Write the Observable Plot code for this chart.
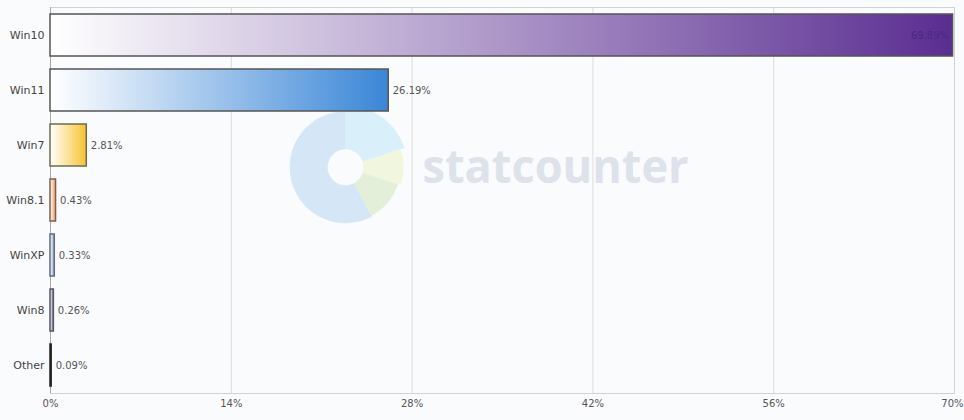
<!DOCTYPE html>
<html>
<head>
<meta charset="utf-8">
<script src="https://cdn.jsdelivr.net/npm/d3@7"></script>
<script src="https://cdn.jsdelivr.net/npm/@observablehq/plot@0.6"></script>
<style>
  html, body { margin: 0; padding: 0; background: #fafbfd; }
  #chart svg { display: block; background: #fafbfd; }
</style>
</head>
<body>
<div id="chart"></div>
<script>
const categories = ["Win10", "Win11", "Win7", "Win8.1", "WinXP", "Win8", "Other"];
const values = [69.89, 26.19, 2.81, 0.43, 0.33, 0.26, 0.09];
const barColors = ["#5a2d91", "#3a86d7", "#f6c430", "#f39a5c", "#8ea5d6", "#7c7c9c", "#2e2e2e"];
const strokeColors = ["#555555", "#555555", "#6e6a50", "#7a6050", "#606a80", "#555566", "#222222"];
const xTicks = [0, 14, 28, 42, 56, 70];

const data = categories.map((c, i) => ({ cat: c, value: values[i], i }));

function gradientDefs() {
  const defs = d3.create("svg:defs");
  barColors.forEach((col, i) => {
    const g = defs.append("linearGradient").attr("id", "grad" + i)
      .attr("x1", "0").attr("y1", "0").attr("x2", "1").attr("y2", "0");
    g.append("stop").attr("offset", "0").attr("stop-color", "#ffffff");
    g.append("stop").attr("offset", "1").attr("stop-color", col);
  });
  return defs.node();
}

function watermark(index, scales, values, dims) {
  const g = d3.create("svg:g").attr("pointer-events", "none");
  const pw = dims.width - dims.marginLeft - dims.marginRight;
  const ph = dims.height - dims.marginTop - dims.marginBottom;
  const cx = dims.marginLeft + pw * 0.327;
  const cy = dims.marginTop + ph * 0.415;
  const segs = [
    { a0: 0, a1: 72, r: 62, c: "#d9f0fa" },
    { a0: 72, a1: 108, r: 58, c: "#f1f6de" },
    { a0: 108, a1: 152, r: 55, c: "#e4efd9" },
    { a0: 152, a1: 360, r: 56, c: "#d5e7f6" }
  ];
  const arc = d3.arc();
  segs.forEach(s => {
    g.append("path")
      .attr("transform", `translate(${cx},${cy})`)
      .attr("d", arc({ innerRadius: 18, outerRadius: s.r, startAngle: s.a0 * Math.PI / 180, endAngle: s.a1 * Math.PI / 180 }))
      .attr("fill", s.c);
  });
  g.append("text")
    .attr("x", cx + 77).attr("y", cy + 16)
    .attr("text-anchor", "start")
    .attr("font-family", "'Open Sans', 'DejaVu Sans', sans-serif")
    .attr("font-weight", 700)
    .attr("font-size", 46)
    .attr("textLength", 266)
    .attr("lengthAdjust", "spacingAndGlyphs")
    .attr("fill", "#dde2eb")
    .text("statcounter");
  return g.node();
}

const pct = d => d + "%";

const plot = Plot.plot({
  width: 964,
  height: 420,
  marginTop: 7,
  marginBottom: 27,
  marginLeft: 50,
  marginRight: 10,
  style: { background: "#fafbfd", fontFamily: "'DejaVu Sans', Verdana, sans-serif" },
  x: { domain: [0, 70], label: null },
  y: { domain: categories, label: null, paddingInner: 0.24, paddingOuter: 0.12 },
  color: { type: "identity" },
  marks: [
    gradientDefs,
    Plot.gridX(xTicks.slice(1, -1), { stroke: "#dcdcdc", strokeOpacity: 1 }),
    watermark,
    Plot.frame({ stroke: "#d2d2d2" }),
    Plot.ruleX([0], { stroke: "#a8a8a8" }),
    Plot.barX(data, {
      x: "value", y: "cat",
      fill: d => `url(#grad${d.i})`,
      stroke: d => strokeColors[d.i],
      strokeWidth: 1.5
    }),
    Plot.text(data.filter(d => d.value < 50), {
      x: "value", y: "cat", text: d => d.value.toFixed(2) + "%",
      textAnchor: "start", dx: 4, fontSize: 10, fill: "#555"
    }),
    Plot.text(data.filter(d => d.value >= 50), {
      x: "value", y: "cat", text: d => d.value.toFixed(2) + "%",
      textAnchor: "end", dx: -4, fontSize: 10, fill: "#4a2a78"
    }),
    Plot.axisX({ ticks: xTicks.slice(0, -1), tickFormat: pct, tickSize: 0, tickPadding: 6, fontSize: 10, color: "#555", label: null }),
    Plot.axisX({ ticks: xTicks.slice(-1), tickFormat: pct, tickSize: 0, tickPadding: 6, fontSize: 10, color: "#555", label: null, textAnchor: "end", dx: 9 }),
    Plot.axisY({ tickSize: 0, tickPadding: 6, fontSize: 11, color: "#444", label: null })
  ]
});
document.getElementById("chart").appendChild(plot);
</script>
</body>
</html>
